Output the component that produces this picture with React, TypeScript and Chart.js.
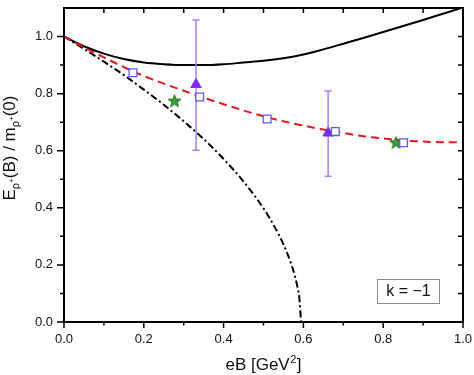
import React, { useEffect, useRef } from 'react';
import { Chart, registerables } from 'chart.js';

Chart.register(...registerables);

const FONT = "'Liberation Sans', Arial, Helvetica, sans-serif";

// Solid black curve
const solidX = [0, 0.05, 0.1, 0.15, 0.2, 0.25, 0.3, 0.35, 0.4, 0.45, 0.5, 0.55, 0.6, 0.65, 0.7, 0.75, 0.8, 0.85, 0.9, 0.95, 1.0];
const solidY = [1.0, 0.966, 0.94, 0.921, 0.909, 0.903, 0.9, 0.9, 0.903, 0.909, 0.915, 0.924, 0.937, 0.955, 0.975, 0.995, 1.016, 1.037, 1.058, 1.08, 1.102];

// Dash-dot black curve
const dashDotX = [0, 0.05, 0.1, 0.15, 0.2, 0.25, 0.3, 0.35, 0.4, 0.45, 0.5, 0.53, 0.55, 0.57, 0.58, 0.585, 0.59, 0.594];
const dashDotY = [1.0, 0.957, 0.912, 0.865, 0.814, 0.761, 0.703, 0.641, 0.571, 0.492, 0.398, 0.328, 0.272, 0.201, 0.154, 0.123, 0.082, 0.0];

// Red dashed curve
const dashX = [0, 0.05, 0.1, 0.15, 0.2, 0.25, 0.3, 0.35, 0.4, 0.45, 0.5, 0.55, 0.6, 0.65, 0.7, 0.75, 0.8, 0.85, 0.9, 0.95, 1.0];
const dashY = [1.0, 0.962, 0.927, 0.893, 0.862, 0.835, 0.81, 0.786, 0.763, 0.741, 0.721, 0.703, 0.688, 0.674, 0.662, 0.651, 0.643, 0.636, 0.632, 0.63, 0.63];

// Open squares
const squareX = [0.173, 0.34, 0.509, 0.68, 0.851];
const squareY = [0.873, 0.788, 0.711, 0.667, 0.628];

// Filled triangles with error bars
const triX = [0.331, 0.662];
const triY = [0.832, 0.662];
const triLow = [0.602, 0.511];
const triHigh = [1.058, 0.809];

// Green stars
const starX = [0.277, 0.832];
const starY = [0.774, 0.628];

const xMajor = [0, 0.2, 0.4, 0.6, 0.8, 1.0];
const xMinor = [0.1, 0.3, 0.5, 0.7, 0.9];
const yMajor = [0, 0.2, 0.4, 0.6, 0.8, 1.0];
const yMinor = [0.1, 0.3, 0.5, 0.7, 0.9];

const kLabel = 'k = \u22121';

function pts(xs: number[], ys: number[]) {
  return xs.map((x, i) => ({ x, y: ys[i] }));
}

function makeStar(): HTMLCanvasElement {
  const c = document.createElement('canvas');
  c.width = 15;
  c.height = 15;
  const g = c.getContext('2d')!;
  const cx = 7.5, cy = 7.8, ro = 6.6, ri = 2.7;
  g.beginPath();
  for (let i = 0; i < 10; i++) {
    const r = i % 2 === 0 ? ro : ri;
    const a = -Math.PI / 2 + (i * Math.PI) / 5;
    const px = cx + r * Math.cos(a);
    const py = cy + r * Math.sin(a);
    if (i === 0) g.moveTo(px, py);
    else g.lineTo(px, py);
  }
  g.closePath();
  g.fillStyle = '#3aa13a';
  g.fill();
  g.lineWidth = 1;
  g.strokeStyle = '#1d6b1d';
  g.stroke();
  return c;
}

const decorPlugin = {
  id: 'decor',
  afterDatasetDraw(chart: any, args: any) {
    if (args.index !== 3) return;
    const { ctx } = chart;
    const xs = chart.scales.x;
    const ys = chart.scales.y;
    ctx.save();
    ctx.strokeStyle = '#a97ff0';
    ctx.lineWidth = 1.5;
    for (let i = 0; i < triX.length; i++) {
      const px = xs.getPixelForValue(triX[i]);
      const pt = ys.getPixelForValue(triHigh[i]);
      const pb = ys.getPixelForValue(triLow[i]);
      ctx.beginPath();
      ctx.moveTo(px, pt);
      ctx.lineTo(px, pb);
      ctx.moveTo(px - 3.5, pt);
      ctx.lineTo(px + 3.5, pt);
      ctx.moveTo(px - 3.5, pb);
      ctx.lineTo(px + 3.5, pb);
      ctx.stroke();
    }
    ctx.restore();
  },
  afterDraw(chart: any) {
    const { ctx, chartArea } = chart;
    const { left, right, top, bottom } = chartArea;
    const xs = chart.scales.x;
    const ys = chart.scales.y;
    ctx.save();
    // frame
    ctx.strokeStyle = '#000';
    ctx.lineWidth = 2;
    ctx.strokeRect(left, top, right - left, bottom - top);
    ctx.lineWidth = 1.5;
    ctx.beginPath();
    // left ticks (outside)
    yMajor.forEach((v) => {
      const p = ys.getPixelForValue(v);
      ctx.moveTo(left - 7, p);
      ctx.lineTo(left, p);
    });
    yMinor.forEach((v) => {
      const p = ys.getPixelForValue(v);
      ctx.moveTo(left - 4, p);
      ctx.lineTo(left, p);
    });
    // right ticks (inside)
    [...yMajor, ...yMinor].forEach((v) => {
      const p = ys.getPixelForValue(v);
      ctx.moveTo(right - 5, p);
      ctx.lineTo(right, p);
    });
    // bottom ticks (outside)
    xMajor.forEach((v) => {
      const p = xs.getPixelForValue(v);
      ctx.moveTo(p, bottom);
      ctx.lineTo(p, bottom + 6);
    });
    xMinor.forEach((v) => {
      const p = xs.getPixelForValue(v);
      ctx.moveTo(p, bottom);
      ctx.lineTo(p, bottom + 3.5);
    });
    // top ticks (inside)
    [...xMajor, ...xMinor].forEach((v) => {
      const p = xs.getPixelForValue(v);
      ctx.moveTo(p, top);
      ctx.lineTo(p, top + 5);
    });
    ctx.stroke();

    // x title: eB [GeV^2]
    ctx.fillStyle = '#111';
    ctx.textBaseline = 'alphabetic';
    ctx.textAlign = 'left';
    const big = `17px ${FONT}`;
    const small = `11px ${FONT}`;
    ctx.font = big;
    const w1 = ctx.measureText('eB [GeV').width;
    ctx.font = small;
    const w2 = ctx.measureText('2').width;
    ctx.font = big;
    const w3 = ctx.measureText(']').width;
    const total = w1 + w2 + 1 + w3;
    const cx = (left + right) / 2;
    let x0 = cx - total / 2;
    const base = 370;
    ctx.font = big;
    ctx.fillText('eB [GeV', x0, base);
    ctx.font = small;
    ctx.fillText('2', x0 + w1 + 0.5, base - 7);
    ctx.font = big;
    ctx.fillText(']', x0 + w1 + w2 + 1, base);

    // y title: E_{rho+}(B) / m_{rho+}(0)
    const segs = [
      { t: 'E', s: 17, dy: 0 },
      { t: '\u03C1', s: 11, dy: 4 },
      { t: '+', s: 8, dy: -1 },
      { t: '(B) / m', s: 17, dy: 0 },
      { t: '\u03C1', s: 11, dy: 4 },
      { t: '+', s: 8, dy: -1 },
      { t: '(0)', s: 17, dy: 0 },
    ];
    let tw = 0;
    const widths = segs.map((sg) => {
      ctx.font = `${sg.s}px ${FONT}`;
      const w = ctx.measureText(sg.t).width;
      tw += w;
      return w;
    });
    ctx.save();
    ctx.translate(15, 148);
    ctx.rotate(-Math.PI / 2);
    let px = -tw / 2;
    segs.forEach((sg, i) => {
      ctx.font = `${sg.s}px ${FONT}`;
      ctx.fillText(sg.t, px, sg.dy);
      px += widths[i];
    });
    ctx.restore();

    // k label box
    const bx = right - 86;
    const by = bottom - 43;
    ctx.strokeStyle = '#8c8c8c';
    ctx.lineWidth = 1;
    ctx.strokeRect(bx + 0.5, by + 0.5, 62, 24);
    ctx.fillStyle = '#111';
    ctx.font = `16px ${FONT}`;
    ctx.textAlign = 'center';
    ctx.textBaseline = 'middle';
    ctx.fillText(kLabel, bx + 31.5, by + 13);
    ctx.restore();
  },
};

export default function App() {
  const ref = useRef<HTMLCanvasElement | null>(null);
  useEffect(() => {
    document.body.style.margin = '0';
    const canvas = ref.current!;
    const star = makeStar();
    const chart = new Chart(canvas, {
      type: 'scatter',
      data: {
        datasets: [
          {
            label: 'squares',
            data: pts(squareX, squareY),
            pointStyle: 'rect',
            pointRadius: 5.5,
            borderColor: '#6257f2',
            backgroundColor: '#ffffff',
            borderWidth: 1.3,
            showLine: false,
          },
          {
            label: 'stars',
            data: pts(starX, starY),
            pointStyle: star as any,
            pointRadius: 7,
            showLine: false,
          },
          {
            label: 'triangles',
            data: pts(triX, triY),
            pointStyle: 'triangle',
            pointRadius: 6,
            borderColor: '#7d2cf0',
            backgroundColor: '#7d2cf0',
            borderWidth: 1,
            showLine: false,
          },
          {
            label: 'red dashed',
            data: pts(dashX, dashY),
            showLine: true,
            borderColor: '#e41a1c',
            borderWidth: 2,
            borderDash: [8, 5],
            pointRadius: 0,
            cubicInterpolationMode: 'monotone',
          },
          {
            label: 'dash-dot',
            data: pts(dashDotX, dashDotY),
            showLine: true,
            borderColor: '#000',
            borderWidth: 2,
            borderDash: [7, 3, 2, 3],
            pointRadius: 0,
            cubicInterpolationMode: 'monotone',
          },
          {
            label: 'solid',
            data: pts(solidX, solidY),
            showLine: true,
            borderColor: '#000',
            borderWidth: 2,
            pointRadius: 0,
            cubicInterpolationMode: 'monotone',
          },
        ],
      },
      options: {
        responsive: false,
        animation: false,
        events: [],
        layout: { padding: { left: 0, right: 11, top: 2, bottom: 0 } },
        plugins: { legend: { display: false }, tooltip: { enabled: false } },
        scales: {
          x: {
            type: 'linear',
            min: 0,
            max: 1,
            grid: { display: false, drawTicks: false },
            border: { display: false },
            ticks: {
              padding: 10,
              color: '#111',
              font: { family: FONT, size: 13 },
              callback: (v: any) => Number(v).toFixed(1),
            },
            afterBuildTicks: (s: any) => {
              s.ticks = xMajor.map((v) => ({ value: v }));
            },
            afterFit: (s: any) => {
              s.height = 53;
              s.paddingLeft = 0;
              s.paddingRight = 0;
            },
          },
          y: {
            type: 'linear',
            min: 0,
            max: 1.1,
            grid: { display: false, drawTicks: false },
            border: { display: false },
            ticks: {
              padding: 11,
              color: '#111',
              font: { family: FONT, size: 13 },
              callback: (v: any) => Number(v).toFixed(1),
            },
            afterBuildTicks: (s: any) => {
              s.ticks = yMajor.map((v) => ({ value: v }));
            },
            afterFit: (s: any) => {
              s.width = 64;
              s.paddingTop = 0;
              s.paddingBottom = 0;
            },
          },
        },
      },
      plugins: [decorPlugin],
    });
    return () => chart.destroy();
  }, []);
  return (
    <div style={{ position: 'absolute', left: 0, top: 0, width: 474, height: 375 }}>
      <canvas ref={ref} width={474} height={375} />
    </div>
  );
}
